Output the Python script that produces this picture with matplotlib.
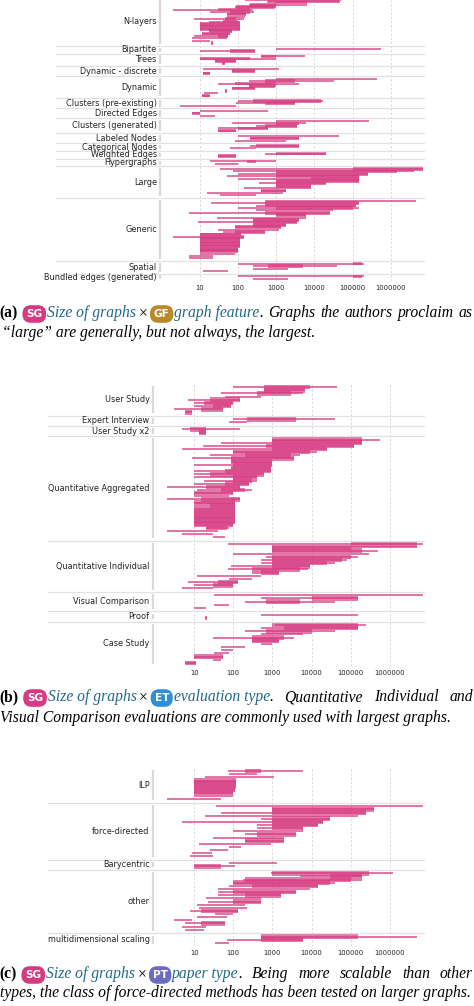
import numpy as np
import matplotlib
matplotlib.use("Agg")
import matplotlib.pyplot as plt

# --- Data: one row per paper -> (min size, max size, core lo, core hi) ---
feat_labels = ["N-layers", "Bipartite", "Trees", "Dynamic - discrete", "Dynamic",
               "Clusters (pre-existing)", "Directed Edges", "Clusters (generated)",
               "Labeled Nodes", "Categorical Nodes", "Weighted Edges", "Hypergraphs",
               "Large", "Generic", "Spatial", "Bundled edges (generated)"]
feat_rows = [
    [(150, 50000, 600, 45000), (560, 47000, 900, 6300), (190, 6300, 200, 1000),
     (83, 1000, 90, 900), (2, 250, 30, 200), (18, 260, 60, 200), (50, 160, 50, 160),
     (50, 150, None, None), (7, 140, 45, 90), (17, 110, 40, 100), (10, 110, 10, 110),
     (10, 110, 10, 110), (10, 110, 10, 110), (17, 70, 17, 70), (11, 60, 11, 60),
     (7, 55, 30, 55), (6, 50, None, None), (6, 18, None, None), (19, 22, 19, 22)],
    [(1000, 550000, None, None), (10, 280, 60, 280)],
    [(400, 5600, 400, 1000), (10, 1000, 10, 200), (24, 90, 24, 90), (38, 44, 38, 44)],
    [(12, 1200, None, None), (70, 280, 70, 280), (12, 18, 12, 18)],
    [(1000, 450000, None, None), (190, 33000, 500, 3000), (30, 4000, 80, 1000),
     (190, 1000, 190, 900), (70, 280, 70, 280), (46, 52, 46, 52), (13, 30, None, None),
     (11, 18, 11, 18)],
    [(100, 17000, 250, 15000), (90, 3000, 500, 3000), (3, 90, None, None)],
    [(10, 600, None, None), (6, 10, 6, 10), (10, 25, None, None)],
    [(1000, 270000, None, None), (70, 6000, 1000, 4000), (300, 3500, 500, 3500),
     (30, 600, 100, 600), (30, 85, 30, 85)],
    [(100, 45000, None, None), (200, 4000, 200, 4000), (80, 1800, None, None)],
    [(200, 4000, 300, 4000), (60, 300, None, None)],
    [(500, 20000, 1000, 20000), (30, 85, 30, 85)],
    [(18, 1000, 170, 300), (25, 100, None, None)],
    [(33, 7000000, 100000, 7000000), (75, 4000000, 1000, 1500000), (100, 250000, 1000, 250000),
     (50, 150000, 1000, 150000), (100, 150000, 8000, 150000), (1000, 150000, 1000, 150000),
     (350, 20000, 1000, 20000), (1000, 8000, 1000, 8000), (140, 8000, None, None),
     (400, 1800, 400, 1800), (15, 1500, None, None), (33, 300, None, None)],
    [(500, 4500000, None, None), (19, 150000, 500, 150000), (300, 120000, 500, 120000),
     (100, 150000, 1000, 100000), (300, 30000, None, None), (5, 25000, 500, 25000),
     (1000, 6000, 1000, 6000), (28, 6000, None, None), (250, 4000, 250, 4000),
     (9, 3500, 250, 3500), (250, 1800, 250, 1800), (80, 1300, 80, 1300),
     (30, 1200, None, None), (40, 500, 80, 500), (10, 120, 10, 120), (2, 140, 10, 140),
     (10, 110, 10, 110), (10, 110, 10, 110), (10, 110, 10, 110), (10, 110, 10, 110),
     (10, 100, 10, 100), (10, 100, 10, 100), (10, 80, None, None), (5, 22, None, None),
     (5, 22, None, None)],
    [(100, 200000, 100000, 180000), (250, 40000, 600, 5000), (250, 2000, None, None),
     (12, 55, None, None)],
    [(100, 200000, 100000, 180000), (250, 2000, None, None)],
]

eval_labels = ["User Study", "Expert Interview", "User Study x2", "Quantitative Aggregated",
               "Quantitative Individual", "Visual Comparison", "Proof", "Case Study"]
eval_rows = [
    [(100, 45000, 600, 9000), (600, 7000, 600, 7000), (50, 6000, 400, 3000),
     (60, 500, None, None), (7, 150, 25, 150), (10, 100, 18, 100), (10, 90, 30, 90),
     (3, 55, 15, 55), (6, 9, 6, 9)],
    [(100, 40000, 220, 4000), (80, 220, None, None)],
    [(5, 150, 8, 20), (13, 20, 13, 20)],
    [(1000, 550000, 1000, 200000), (50, 200000, 1000, 200000), (17, 120000, 700, 120000),
     (5, 25000, 1000, 25000), (100, 14000, 100, 9000), (25, 5000, 200, 3000),
     (9, 3500, 90, 3500), (90, 1000, 90, 1000), (10, 1000, 100, 1000), (90, 900, 90, 900),
     (10, 900, 60, 900), (10, 600, 25, 600), (10, 400, 100, 400), (18, 400, 100, 300),
     (10, 250, 60, 250), (2, 150, 20, 150), (12, 300, 50, 200), (10, 100, 10, 100),
     (10, 80, None, None), (2, 150, 15, 150), (10, 110, 10, 110), (10, 110, 25, 110),
     (10, 110, 10, 110), (10, 110, 10, 110), (10, 110, 10, 110), (10, 110, 10, 110),
     (10, 110, 10, 110), (10, 100, 10, 100), (20, 80, 20, 70), (2, 40, None, None),
     (5, 30, None, None), (30, 60, None, None)],
    [(75, 7000000, 100000, 5000000), (1000, 5000000, 1000, 100000),
     (1000, 500000, 1000, 200000), (100, 300000, None, None), (700, 150000, 1000, 100000),
     (500, 80000, 1000, 60000), (500, 40000, 1000, 25000), (90, 9000, 1000, 9000),
     (75, 8000, 300, 5000), (300, 1500, 500, 1500), (12, 500, None, None),
     (80, 300, None, None), (7, 130, 40, 130), (10, 100, 30, 100), (5, 30, None, None)],
    [(33, 7000000, None, None), (500, 150000, 10000, 150000), (200, 40000, 700, 5000),
     (33, 80, None, None), (10, 20, None, None)],
    [(500, 150000, None, None), (19, 21, 19, 21)],
    [(1200, 250000, 1000, 150000), (500, 150000, 2000, 150000), (200, 40000, 700, 10000),
     (500, 6000, None, None), (30, 3500, 300, 2000), (300, 1500, 300, 1500),
     (500, 1000, None, None), (50, 200, None, None), (50, 100, None, None),
     (33, 80, None, None), (10, 55, 10, 55), (30, 50, None, None), (6, 11, 6, 11)],
]

type_labels = ["ILP", "force-directed", "Barycentric", "other", "multidimensional scaling"]
type_rows = [
    [(75, 6000, 200, 500), (80, 400, None, None), (19, 1100, None, None),
     (10, 120, 10, 120), (10, 120, 10, 120), (10, 120, 10, 120), (10, 110, 10, 110),
     (10, 100, 10, 100), (10, 100, None, None), (2, 50, None, None)],
    [(37, 7000000, None, None), (1000, 400000, 1000, 400000), (50, 250000, 1000, 250000),
     (19, 150000, None, None), (500, 30000, 1000, 30000), (5, 20000, 1000, 20000),
     (400, 15000, 1000, 15000), (400, 6000, 1000, 6000), (100, 6000, None, None),
     (200, 4000, 400, 4000), (30, 2000, None, None), (200, 2000, 200, 2000),
     (13, 900, None, None), (80, 160, None, None), (25, 75, None, None),
     (9, 28, None, None), (8, 30, None, None)],
    [(80, 1300, None, None), (10, 110, 10, 50)],
    [(900, 1200000, 1000, 300000), (5000, 200000, 30000, 200000), (180, 200000, 200, 100000),
     (100, 40000, 100, 30000), (80, 15000, 300, 15000), (40, 9000, None, None),
     (40, 4000, 100, 4000), (40, 1700, 200, 1700), (20, 500, None, None),
     (23, 500, 100, 500), (12, 200, None, None), (13, 220, None, None),
     (8, 130, 15, 130), (35, 100, None, None), (12, 70, None, None), (3, 9, None, None),
     (6, 60, 15, 60), (5, 20, None, None), (6, 18, None, None)],
    [(500, 5000000, 500, 150000), (70, 6000, 500, 6000), (35, 80, None, None)],
]

tick_vals = [10, 100, 1000, 10000, 100000, 1000000]

PINK = "#d63a80"
GAP = 1.2
W, H = 474, 1006

fig = plt.figure(figsize=(W / 100, H / 100), dpi=100)


def draw_panel(rect, labels, groups, ylim_top, sep_left):
    ax = fig.add_axes(rect)
    ytr = ax.get_yaxis_transform()
    y = 0.0
    for name, rows in zip(labels, groups):
        ys = y + np.arange(len(rows))
        for yy, (lo, hi, clo, chi) in zip(ys, rows):
            ax.hlines(yy, lo, hi, color=PINK, lw=1.1, alpha=0.9)
            if clo is not None:
                ax.barh(yy, chi - clo, left=clo, height=1.45, color=PINK, alpha=0.68, lw=0)
        top, bot = y - 0.5, y + len(rows) - 0.5
        ax.plot([-0.006, -0.006], [top + 0.15, bot - 0.15], transform=ytr, color="#d9d9d9",
                lw=1.6, clip_on=False, solid_capstyle="butt")
        ax.text(-0.02, (top + bot) / 2, name, transform=ytr, ha="right", va="center",
                fontsize=5.9, color="#222222")
        sep = bot + GAP / 2
        if name != labels[-1]:
            ax.plot([sep_left, 1], [sep, sep], transform=ytr, color="#e2e2e2", lw=0.9,
                    clip_on=False)
        y += len(rows) + GAP
    last = y - GAP - 1
    ax.set_xscale("log")
    ax.set_xlim(1, 7.5e6)
    ax.set_ylim(last + 1.0, ylim_top)
    ax.set_xticks(tick_vals)
    ax.set_xticklabels([str(v) for v in tick_vals], fontsize=4.9, color="#222222")
    ax.minorticks_off()
    ax.tick_params(axis="x", length=0, pad=3)
    ax.set_yticks([])
    for s in ax.spines.values():
        s.set_visible(False)
    ax.grid(axis="x", color="#cfcfcf", lw=0.6, ls=(0, (2.5, 2.5)))
    ax.set_axisbelow(True)
    return ax


draw_panel([162 / W, 1 - 281 / H, 262 / W, 281 / H], feat_labels, feat_rows, 0.0, -0.405)
draw_panel([155 / W, 1 - 666 / H, 269 / W, 282 / H], eval_labels, eval_rows, -1.0, -0.398)
draw_panel([155 / W, 1 - 946 / H, 269 / W, 178 / H], type_labels, type_rows, -1.0, -0.398)

# --- captions ---
TEAL = "#21678a"
SERIF = "Liberation Serif"
renderer = fig.canvas.get_renderer()
styles = {
    "bold": dict(family=SERIF, weight="bold", color="black"),
    "it": dict(family=SERIF, style="italic", color="black"),
    "teal": dict(family=SERIF, style="italic", color=TEAL),
    "up": dict(family=SERIF, color="black"),
}
badges = {"SG": "#d63a80", "GF": "#b88a2a", "ET": "#2d8fd5", "PT": "#6b6bc2"}
FS = 11.25


def place_line(tokens, x0, y_px, x_end=None):
    # tokens: (text, kind, gap before, stretchable gap)
    items = []
    for text, kind, gap, flex in tokens:
        if kind == "badge":
            t = fig.text(0, 0, text, fontsize=7.6, family="DejaVu Sans", weight="bold",
                         color="white", va="baseline", transform=None,
                         bbox=dict(boxstyle="round,pad=0.36,rounding_size=0.8",
                                   fc=badges[text], ec="none"))
            pad = 4.0
        else:
            t = fig.text(0, 0, text, fontsize=FS, va="baseline", transform=None,
                         **styles[kind])
            pad = 0
        w = t.get_window_extent(renderer).width
        items.append([t, w, pad, gap, flex])
    nat = x0
    for t, w, pad, gap, flex in items:
        nat += gap + w + 2 * pad
    extra = 0
    nstretch = sum(1 for it in items[1:] if it[4])
    if x_end is not None and nstretch:
        extra = max(0, (x_end - nat) / nstretch)
    x = x0
    for i, (t, w, pad, gap, flex) in enumerate(items):
        if i > 0:
            x += gap + (extra if flex else 0)
        t.set_position((x + pad, H - y_px))
        x += w + 2 * pad


SP = 3.4


def head(tag, badge, feature, tail):
    toks = [(tag, "bold", 0, False), ("SG", "badge", 5, False),
            ("Size of graphs", "teal", 0.5, False), ("×", "up", 2.5, False),
            (badge, "badge", 2.5, False), (feature, "teal", 0.5, False), (".", "it", 0, False)]
    toks += [(wd, "it", SP, True) for wd in tail.split()]
    return toks


place_line(head("(a)", "GF", "graph feature", "Graphs the authors proclaim as"), -1, 317, 473)
place_line([("“large” are generally, but not always, the largest.", "it", 0, False)], 2, 337)

place_line(head("(b)", "ET", "evaluation type", "Quantitative Individual and"), -1, 701, 473)
place_line([("Visual Comparison evaluations are commonly used with largest graphs.",
             "it", 0, False)], 0, 722)

place_line(head("(c)", "PT", "paper type", "Being more scalable than other"), -1, 978, 473)
place_line([("types, the class of force-directed methods has been tested on larger graphs.",
             "it", 0, False)], 0, 997)

fig.savefig("out.png", dpi=100)
